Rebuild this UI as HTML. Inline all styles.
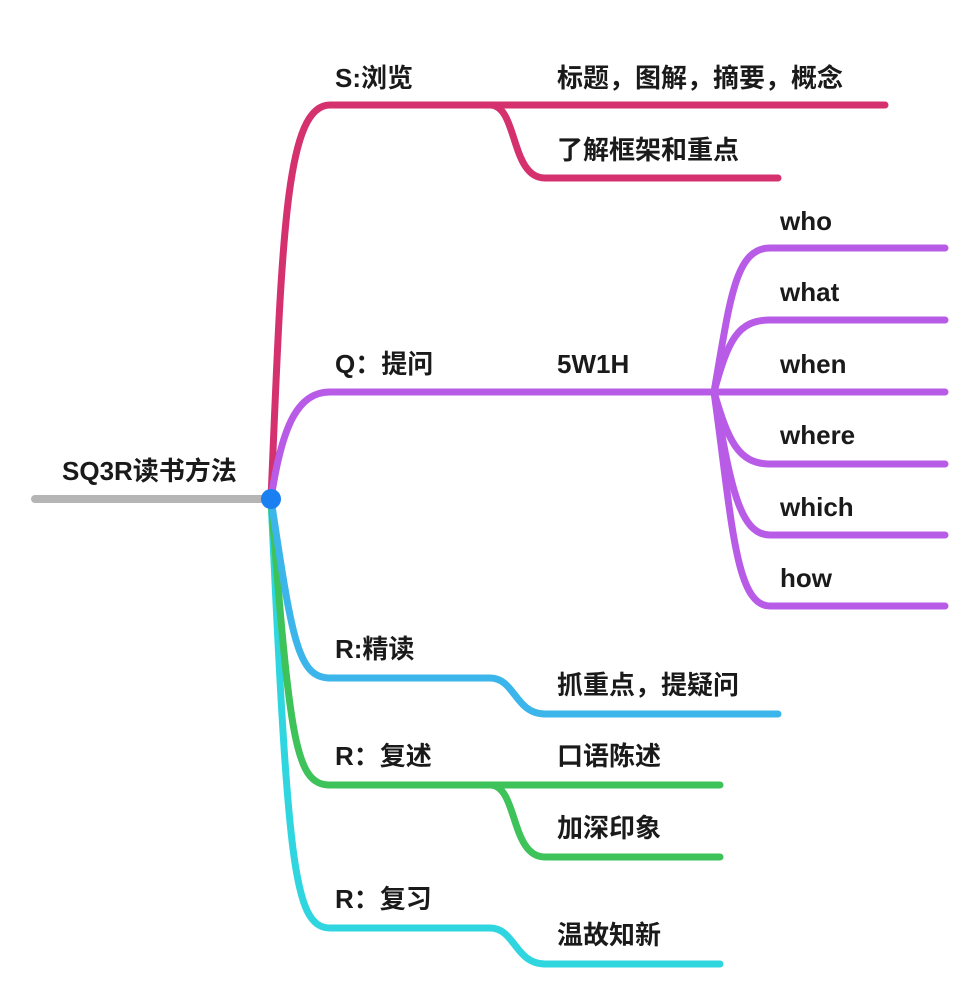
<!DOCTYPE html>
<html><head><meta charset="utf-8"><style>
html,body{margin:0;padding:0;background:#fff;}
svg text{font-family:"Liberation Sans","Noto Sans CJK SC",sans-serif;font-size:26px;fill:#1a1a1a;font-weight:600;}
</style></head><body>
<svg width="976" height="1000" viewBox="0 0 976 1000" xmlns="http://www.w3.org/2000/svg">
<g fill="none" stroke-width="7" stroke-linecap="round">
<path d="M35,499 L271,499" stroke="#b5b5b5" stroke-width="8"/>
<path d="M271,499 C282,240 285,105 330,105 L885,105" stroke="#d4316e"/>
<path d="M490,105 C518,105 510,178 545,178 L778,178" stroke="#d4316e"/>
<path d="M271,499 C282,425 298,392 330,392 L945,392" stroke="#b85ce8"/>
<path d="M714,392 C730,300 735,248 770,248 L945,248" stroke="#b85ce8"/>
<path d="M714,392 C728,340 738,320 770,320 L945,320" stroke="#b85ce8"/>
<path d="M714,392 C728,440 738,464 770,464 L945,464" stroke="#b85ce8"/>
<path d="M714,392 C730,480 738,535 770,535 L945,535" stroke="#b85ce8"/>
<path d="M714,392 C732,520 735,606 770,606 L945,606" stroke="#b85ce8"/>
<path d="M271,499 C288,860 293,928 330,928 L490,928 C515,928 515,964 545,964 L720,964" stroke="#2fd6e0"/>
<path d="M271,499 C290,740 295,785 330,785 L720,785" stroke="#3ec25a"/>
<path d="M490,785 C518,785 510,857 545,857 L720,857" stroke="#3ec25a"/>
<path d="M271,499 C292,640 298,678 330,678 L490,678 C515,678 515,714 545,714 L778,714" stroke="#3bb5ea"/>
</g>
<circle cx="271" cy="499" r="10" fill="#1a7ff0"/>
<text x="62" y="480">SQ3R读书方法</text>
<text x="335" y="87">S:浏览</text>
<text x="557" y="87">标题，图解，摘要，概念</text>
<text x="557" y="159">了解框架和重点</text>
<text x="335" y="373">Q：提问</text>
<text x="557" y="373">5W1H</text>
<text x="780" y="230">who</text>
<text x="780" y="301">what</text>
<text x="780" y="373">when</text>
<text x="780" y="444">where</text>
<text x="780" y="516">which</text>
<text x="780" y="587">how</text>
<text x="335" y="658">R:精读</text>
<text x="557" y="694">抓重点，提疑问</text>
<text x="335" y="765">R：复述</text>
<text x="557" y="765">口语陈述</text>
<text x="557" y="837">加深印象</text>
<text x="335" y="908">R：复习</text>
<text x="557" y="944">温故知新</text>
</svg>
</body></html>
